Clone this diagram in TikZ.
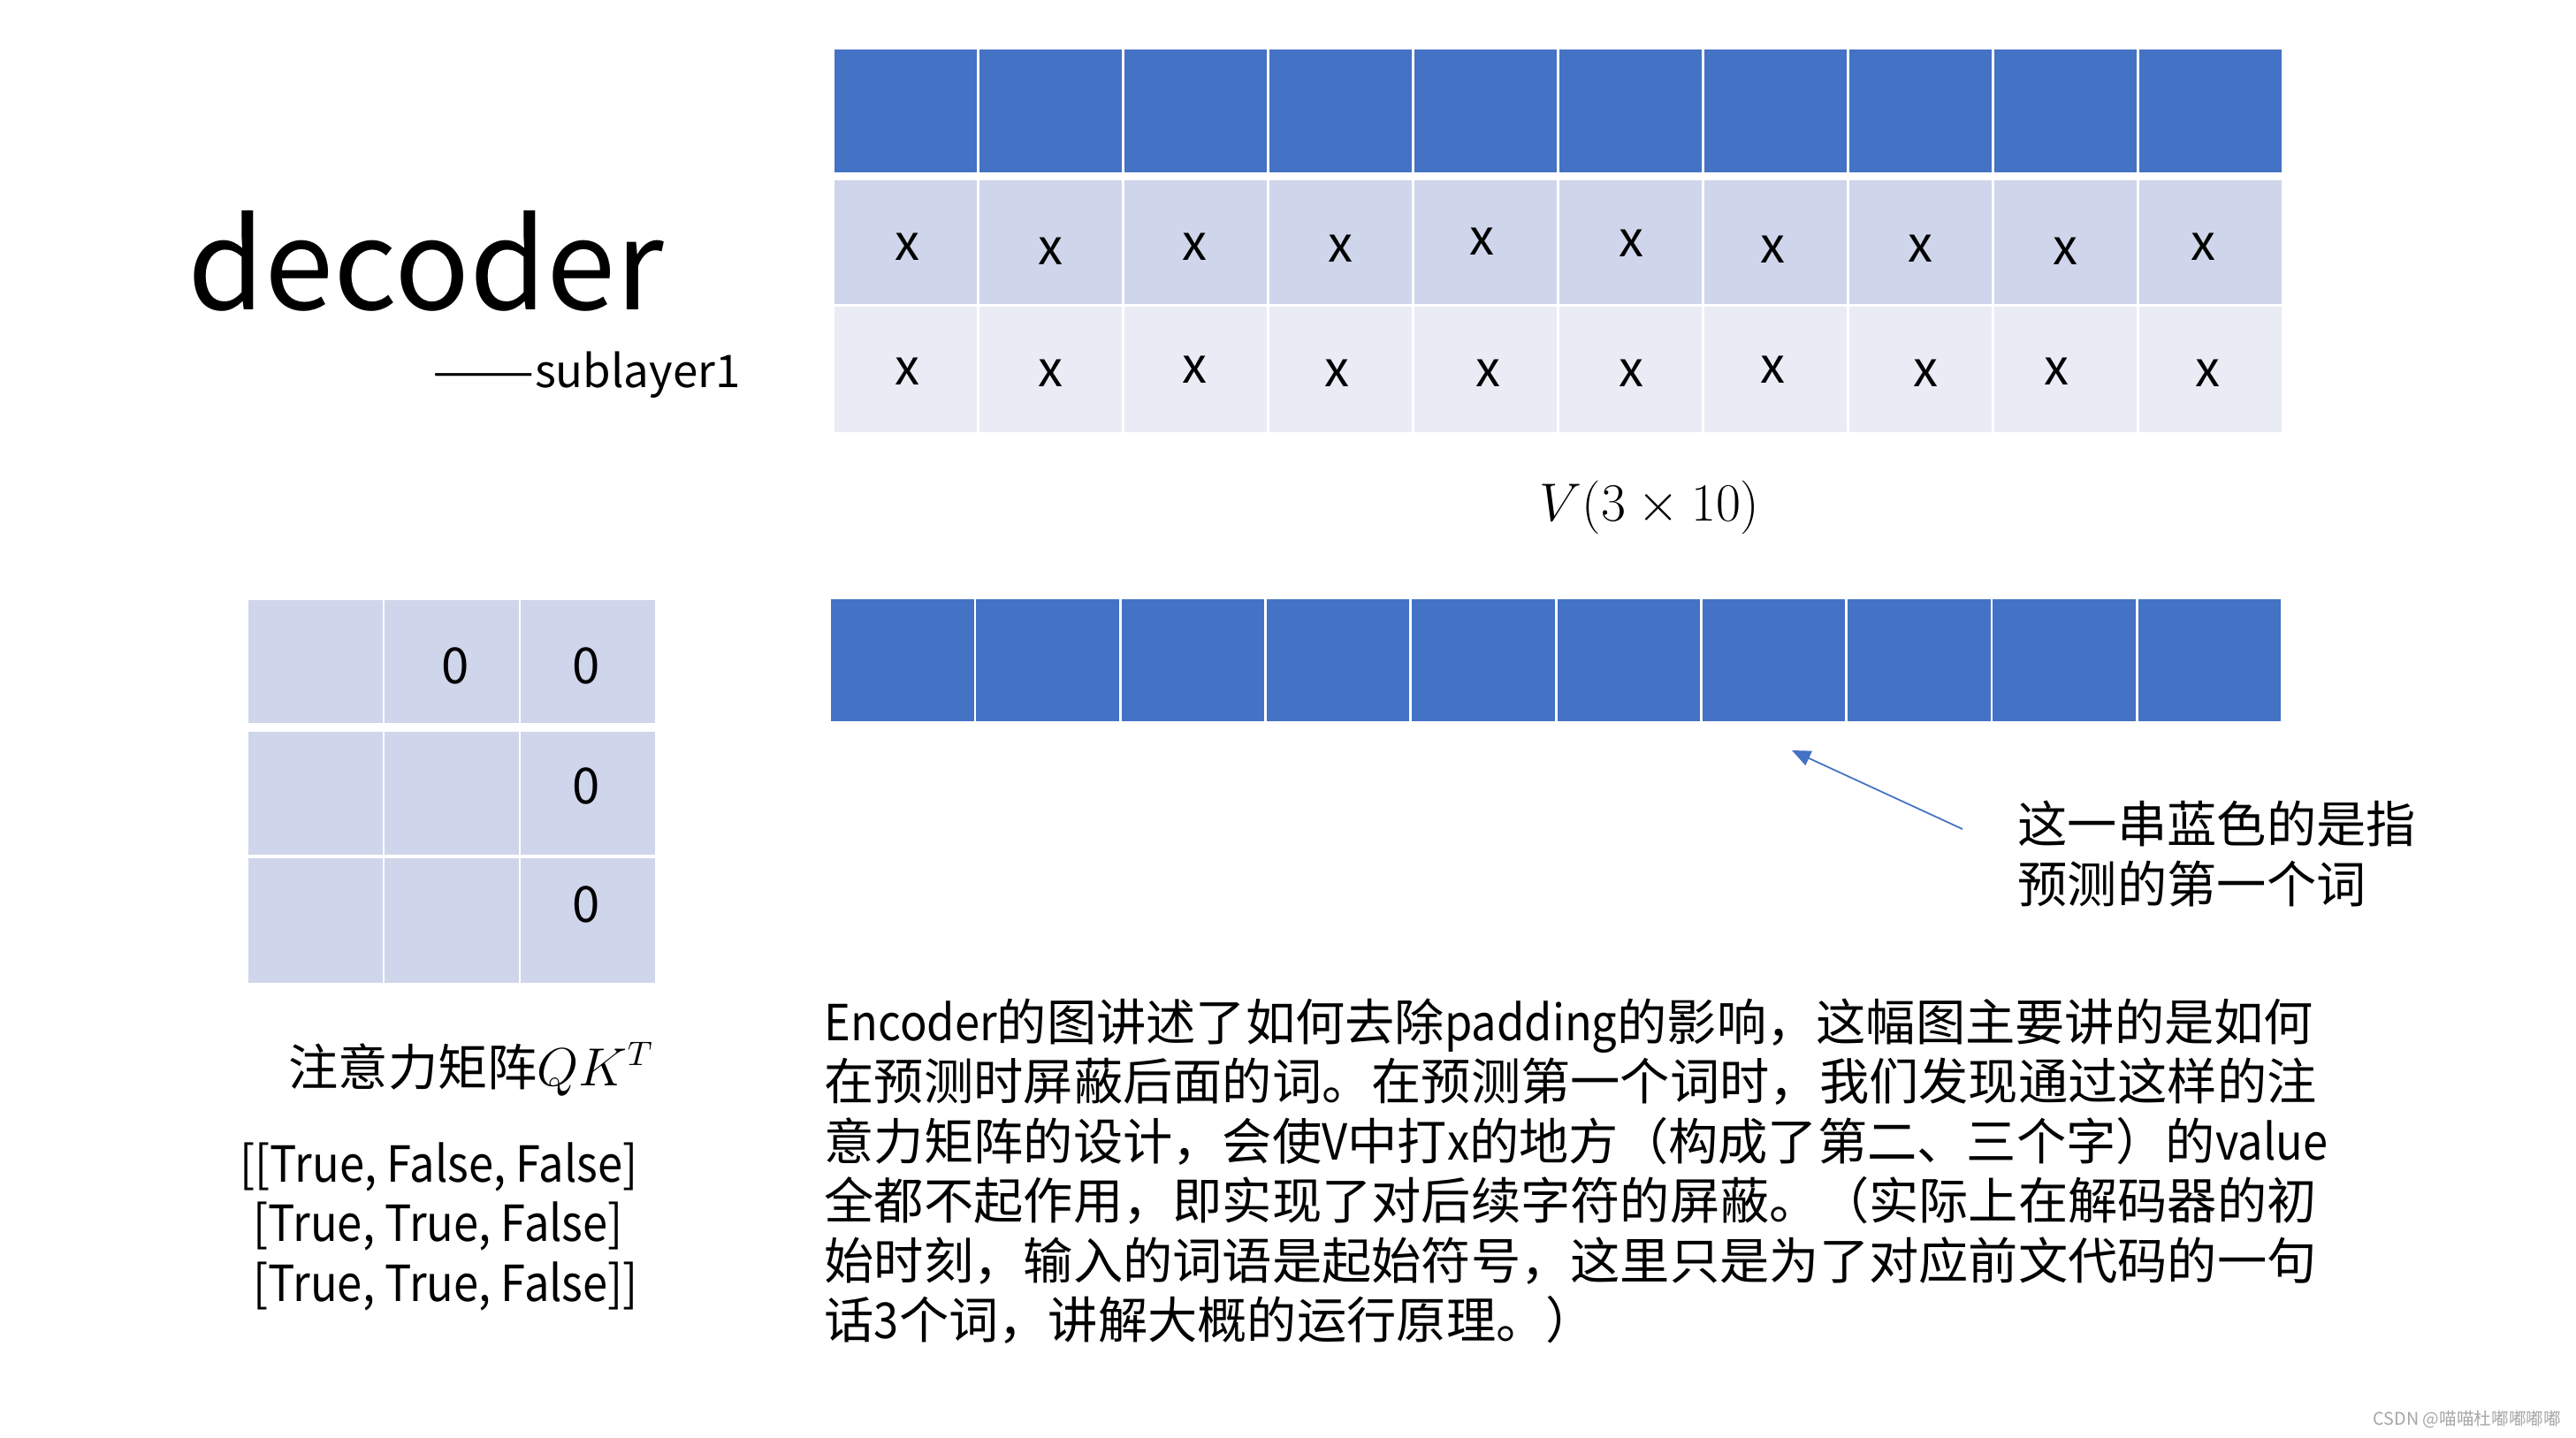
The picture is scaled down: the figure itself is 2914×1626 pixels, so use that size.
\documentclass[tikz,border=0pt]{standalone}
\usepackage{fontspec}
\newfontfamily\cjk{Noto Sans CJK SC}
\newfontfamily\lat{Noto Sans CJK SC}[FakeStretch=0.9]
\newcommand\eng[1]{{\lat #1}}
\usetikzlibrary{arrows.meta}
\definecolor{tblblue}{HTML}{4472C4}
\definecolor{tblmid}{HTML}{CFD5EA}
\definecolor{tbllight}{HTML}{E9EBF5}

\begin{document}
\begin{tikzpicture}[x=0.01cm,y=-0.01cm]
\tikzstyle{txt} = [inner sep=0pt, font=\cjk\fontsize{16}{19}\selectfont]
\tikzstyle{para} = [txt, anchor=base west]
\tikzstyle{xmark} = [txt, anchor=center]
\tikzstyle{ptr} = [draw=tblblue, line width=0.5pt, -{Triangle[length=6pt,width=5pt]}]
\useasboundingbox (0,0) rectangle (2914,1626);

% V (3 x 10)
\foreach \i in {0,...,9} {
  \fill[tblblue] (944+164*\i,56) rectangle ++(161,139);
  \fill[tblmid] (944+164*\i,204) rectangle ++(161,140);
  \fill[tbllight] (944+164*\i,347) rectangle ++(161,142);
}
\foreach \xa/\ya/\xb/\yb [count=\i] in {1027/279/1027/420, 1189/284/1189/422,
    1351/279/1351/418, 1516/281/1512/422, 1676/273/1683/422, 1845/275/1845/422,
    2005/282/2005/418, 2172/281/2178/422, 2336/284/2326/420, 2492/279/2497/422} {
  \node[xmark] (xa\i) at (\xa,\ya) {x};
  \node[xmark] (xb\i) at (\xb,\yb) {x};
}
\node[inner sep=0pt, font=\fontsize{16}{19}\selectfont] (vlabel) at (1866,574) {$V(3\times10)$};

% predicted word
\foreach \i in {0,...,9}
  \fill[tblblue] (940+164.3*\i,678) rectangle ++(161.5,138);
\coordinate (tail) at (2220,938);
\coordinate (tip) at (2027,849);
\draw[ptr] (tail) -- (tip);
\node[para] (note1) at (2282,953) {这一串蓝色的是指};
\node[para] (note2) at (2282,1021) {预测的第一个词};

% title
\node[inner sep=0pt, anchor=base west, font=\cjk\fontsize{40}{46}\selectfont] (title) at (212,350) {decoder};
\node[inner sep=0pt, anchor=base west, font=\cjk\fontsize{14.5}{17}\selectfont] (sub) at (489,438) {\scalebox{1.35}[1]{——}sublayer1};

% attention matrix
\foreach \cx in {281,435,589}
  \foreach \cy/\h in {679/139,828/139,971/141}
    \fill[tblmid] (\cx,\cy) rectangle ++(152,\h);
\node[xmark] (z1) at (515,753) {0};
\node[xmark] (z2) at (663,753) {0};
\node[xmark] (z3) at (663,889) {0};
\node[xmark] (z4) at (663,1023) {0};
\node[txt, anchor=base] (qk) at (533,1228) {注意力矩阵$QK^T$};
\node[para, font=\lat\fontsize{16}{19}\selectfont] (m1) at (271,1337) {[[True, False, False]};
\node[para, font=\lat\fontsize{16}{19}\selectfont] (m2) at (286,1404) {[True, True, False]};
\node[para, font=\lat\fontsize{16}{19}\selectfont] (m3) at (286,1472) {[True, True, False]]};

% explanation
\foreach \yy/\ln [count=\k] in {
    1177/{\eng{Encoder}的图讲述了如何去除\eng{padding}的影响，这幅图主要讲的是如何},
    1244/{在预测时屏蔽后面的词。在预测第一个词时，我们发现通过这样的注},
    1312/{意力矩阵的设计，会使\eng{V}中打\eng{x}的地方（构成了第二、三个字）的\eng{value}},
    1379/{全都不起作用，即实现了对后续字符的屏蔽。（实际上在解码器的初},
    1447/{始时刻，输入的词语是起始符号，这里只是为了对应前文代码的一句},
    1514/{话\eng{3}个词，讲解大概的运行原理。）}}
  \node[para] (line\k) at (932,\yy) {\ln};

\node[inner sep=0pt, anchor=base east, text=black!35, font=\cjk\fontsize{5.6}{6}\selectfont] (wm) at (2898,1612) {CSDN @喵喵杜嘟嘟嘟嘟};
\end{tikzpicture}
\end{document}
